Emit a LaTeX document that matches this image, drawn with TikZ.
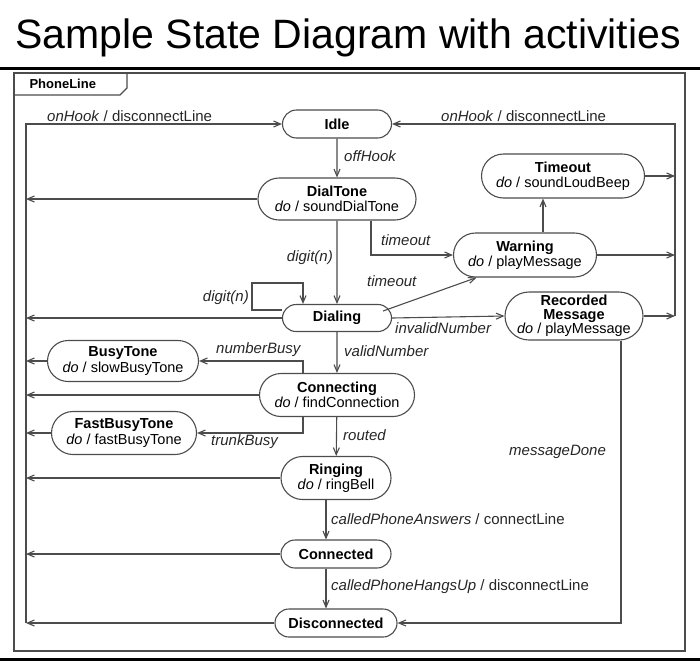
\documentclass[tikz,border=0pt]{standalone}
\usepackage{fontspec}
\setmainfont{Liberation Sans}
\usetikzlibrary{shapes.misc,arrows.meta,calc}
\begin{document}
\begin{tikzpicture}[x=1pt,y=-1pt,
  line/.style={draw=black!70,line width=1.1pt},
  tr/.style={line,-{Straight Barb[length=7pt,width=6pt]}},
  st/.style={rounded rectangle,line,inner sep=0pt,align=center,font=\fontsize{14.5}{15.5}\selectfont,text=black},
  lab/.style={font=\fontsize{15}{17}\selectfont\itshape,text=black!85,inner sep=1pt}]
\useasboundingbox (0,0) rectangle (700,664);
\node[font=\fontsize{41}{44}\selectfont] (title) at (348,38) {Sample State Diagram with activities};
\draw[line width=3pt] (0,68) -- (700,68);
\draw[line width=3pt] (0,659) -- (700,659);
\draw[line] (14,73) rectangle (685,651);
\draw[line] (14,95) -- (120,95) -- (127,88) -- (127,73);
\node[font=\fontsize{13}{14}\selectfont\bfseries,anchor=west] (tab) at (26,84) {PhoneLine};
\coordinate (lb) at (26,0);
\coordinate (rb) at (675,0);
% states
\node[st,minimum width=109pt,minimum height=28pt] (idle) at (337,124) {\textbf{Idle}};
\node[st,minimum width=158pt,minimum height=42pt] (dialtone) at (337,199) {\textbf{DialTone}\\\textit{do} / soundDialTone};
\node[st,minimum width=163pt,minimum height=44pt] (timeout) at (563,176) {\textbf{Timeout}\\\textit{do} / soundLoudBeep};
\node[st,minimum width=143pt,minimum height=44pt] (warning) at (525,255) {\textbf{Warning}\\\textit{do} / playMessage};
\node[st,minimum width=109pt,minimum height=27pt] (dialing) at (337,318) {\textbf{Dialing}};
\node[st,minimum width=138pt,minimum height=48pt,font=\fontsize{14.5}{13.5}\selectfont] (rec) at (574,316) {\textbf{Recorded}\\\textbf{Message}\\\textit{do} / playMessage};
\node[st,minimum width=151pt,minimum height=41pt] (busy) at (123,361) {\textbf{BusyTone}\\\textit{do} / slowBusyTone};
\node[st,minimum width=155pt,minimum height=43pt] (conn) at (337,395) {\textbf{Connecting}\\\textit{do} / findConnection};
\node[st,minimum width=145pt,minimum height=43pt] (fast) at (124,433) {\textbf{FastBusyTone}\\\textit{do} / fastBusyTone};
\node[st,minimum width=110pt,minimum height=43pt] (ring) at (336,478) {\textbf{Ringing}\\\textit{do} / ringBell};
\node[st,minimum width=110pt,minimum height=28pt] (cted) at (336,554) {\textbf{Connected}};
\node[st,minimum width=122pt,minimum height=28pt] (disc) at (336,623) {\textbf{Disconnected}};
% left bus
\draw[tr] (lb |- disc.west) -- (lb |- idle.west) -- (idle.west);
\foreach \n in {dialtone,dialing,busy,conn,fast,ring,cted,disc}
  \draw[tr] (\n.west) -- (lb |- \n.west);
% right bus
\draw[tr] (rb |- rec.east) -- (rb |- idle.east) -- (idle.east);
\foreach \n in {timeout,warning,rec}
  \draw[tr] (\n.east) -- (rb |- \n.east);
% main column
\draw[tr] (idle) -- (dialtone);
\draw[tr] (dialtone) -- (dialing);
\draw[tr] (dialing) -- (conn);
\draw[tr] (conn) -- (ring);
\draw[tr] ([xshift=-10pt]ring.south) -- ([xshift=-10pt]cted.north);
\draw[tr] ([xshift=-10pt]cted.south) -- ([xshift=-10pt]disc.north);
% others
\draw[tr] ([xshift=34pt]dialtone.south) |- (warning.west);
\draw[tr] ($(dialing.east)+(-9,-7)$) -- (warning.205);
\draw[tr] (dialing.east) -- (rec.west);
\draw[tr] (warning.north -| 543,0) -- (timeout.south -| 543,0);
\draw[tr] ([xshift=-34pt]conn.north) |- (busy.east);
\draw[tr] ([xshift=-34pt]conn.south) |- (fast.east);
\draw[tr] (rec.south -| 621,0) |- (disc.east);
\coordinate (l1) at (252,310);
\coordinate (l2) at (252,283);
\coordinate (l3) at (303,283);
\draw[tr] (dialing.west |- l1) -- (l1) -- (l2) -- (l3) -- (l3 |- dialing.north);
% labels
\node[lab,anchor=west] (t1) at (46,116) {onHook\textup{ / disconnectLine}};
\node[lab,anchor=west] (t2) at (440,116) {onHook\textup{ / disconnectLine}};
\node[lab,anchor=west] (t3) at (343,156) {offHook};
\node[lab,anchor=west] (t4) at (380,240) {timeout};
\node[lab,anchor=east] (t5) at (334,258) {digit(n)};
\node[lab,anchor=west] (t6) at (366,281) {timeout};
\node[lab,anchor=east] (t7) at (250,298) {digit(n)};
\node[lab,anchor=west] (t8) at (394,328) {invalidNumber};
\node[lab,anchor=west] (t9) at (215,350) {numberBusy};
\node[lab,anchor=west] (t10) at (343,351) {validNumber};
\node[lab,anchor=west] (t11) at (210,442) {trunkBusy};
\node[lab,anchor=west] (t12) at (342,435) {routed};
\node[lab,anchor=west] (t13) at (508,452) {messageDone};
\node[lab,anchor=west] (t14) at (330,519) {calledPhoneAnswers\textup{ / connectLine}};
\node[lab,anchor=west] (t15) at (330,587) {calledPhoneHangsUp\textup{ / disconnectLine}};
\end{tikzpicture}
\end{document}
